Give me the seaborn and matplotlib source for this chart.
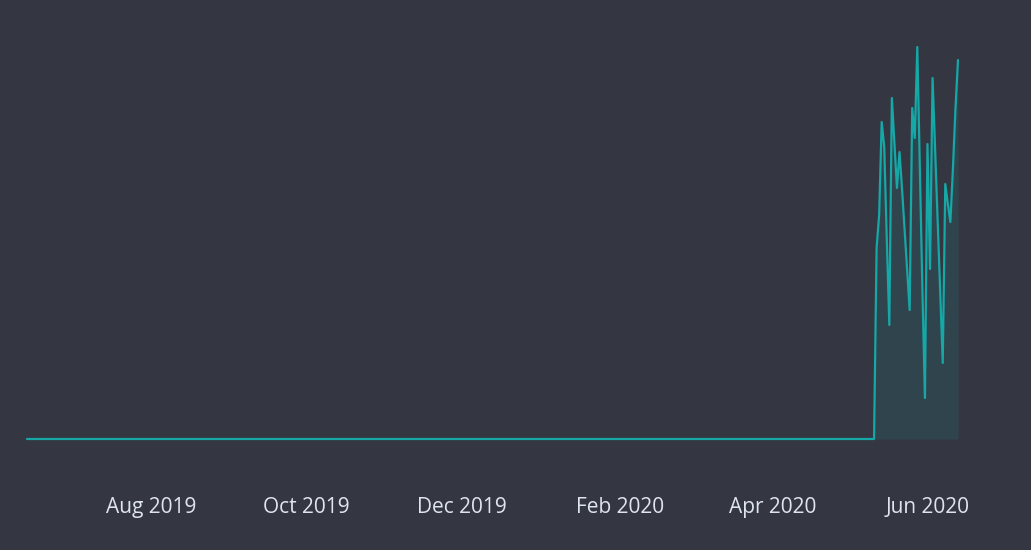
import pandas as pd
import numpy as np
import matplotlib.pyplot as plt
import matplotlib.dates as mdates
import seaborn as sns

# Daily counts: nothing until mid May 2020, then a burst of activity
first_day = "2019-06-13"
last_day = "2020-06-13"
spike_start = "2020-05-12"
spike_values = [191, 224, 317, 292, 200, 114, 341, 296, 251, 287, 250,
                210, 170, 129, 331, 301, 392, 270, 150, 41, 295, 170,
                361, 290, 218, 147, 76, 255, 235, 217, 270, 330, 379]
tick_months = ["2019-08-01", "2019-10-01", "2019-12-01",
               "2020-02-01", "2020-04-01", "2020-06-01"]

days = pd.date_range(first_day, last_day, freq="D")
spike = pd.Series(spike_values,
                  index=pd.date_range(spike_start, periods=len(spike_values), freq="D"))
df = pd.DataFrame({"date": days,
                   "count": spike.reindex(days, fill_value=0).values})

bg = "#343741"
line_col = "#16a7a7"

sns.set_style("dark")
plt.rcParams["font.family"] = ["Open Sans", "DejaVu Sans"]

fig = plt.figure(figsize=(10.31, 5.5), dpi=100, facecolor=bg)
ax = fig.add_axes([27 / 1031, 1 - 439 / 550, (958 - 27) / 1031, (439 - 47) / 550])
ax.set_facecolor(bg)

sns.lineplot(data=df, x="date", y="count", ax=ax, color=line_col, linewidth=1.6)
for ln in ax.lines:
    ln.set_clip_on(False)
ax.fill_between(df["date"], 0, df["count"], color=line_col, alpha=0.12, linewidth=0)

ax.set_xlim(df["date"].min(), df["date"].max())
ax.set_ylim(0, max(spike_values))
ax.set_xticks(pd.to_datetime(tick_months))
ax.xaxis.set_major_formatter(mdates.DateFormatter("%b %Y"))
ax.tick_params(axis="x", length=0, pad=42, labelsize=15, labelcolor="#dfe5ef")
ax.set_yticks([])
ax.set_xlabel("")
ax.set_ylabel("")
ax.grid(False)
for s in ax.spines.values():
    s.set_visible(False)

plt.savefig("out.png", dpi=100, facecolor=bg)
